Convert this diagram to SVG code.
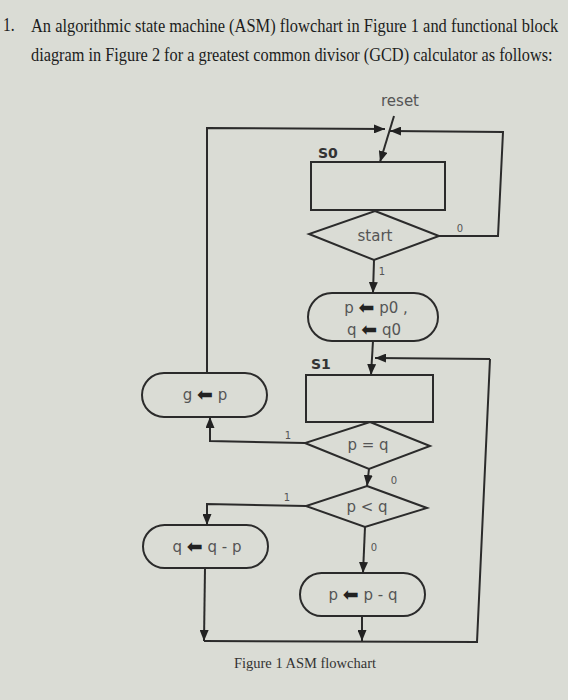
<svg xmlns="http://www.w3.org/2000/svg" width="568" height="700" viewBox="0 0 568 700">
<defs>
<style>
.bg{fill:#dadcd5}
.title{font-family:"Liberation Serif","Times New Roman",serif;font-size:19.5px;fill:#1c1c1c}
.cap{font-family:"Liberation Serif","Times New Roman",serif;font-size:14.5px;fill:#333}
.lbl{font-family:"DejaVu Sans","Noto Sans",sans-serif;font-size:15px;fill:#555;text-anchor:middle}
.ar{font-size:19px;fill:#222}
.st{font-family:"DejaVu Sans","Noto Sans",sans-serif;font-size:14px;font-weight:bold;fill:#333}
.sm{font-family:"DejaVu Sans","Noto Sans",sans-serif;font-size:10px;fill:#555;text-anchor:middle}
.shape{fill:none;stroke:#2b2b2b;stroke-width:2}
.wire{fill:none;stroke:#2b2b2b;stroke-width:2;marker-end:url(#ah)}
.plain{fill:none;stroke:#2b2b2b;stroke-width:2}
</style>
<marker id="ah" markerUnits="userSpaceOnUse" markerWidth="11" markerHeight="9" refX="11" refY="4.5" orient="auto">
<path d="M0,0 L11,4.5 L0,9 z" fill="#222"/>
</marker>
</defs>
<rect class="bg" x="0" y="0" width="568" height="700"/>
<g id="title">
<text class="title" transform="translate(3,31) scale(0.8,1)" x="0" y="0">1.</text>
<text class="title" transform="translate(31,32) scale(0.8,1)" x="0" y="0" textLength="659" lengthAdjust="spacingAndGlyphs">An algorithmic state machine (ASM) flowchart in Figure 1 and functional block</text>
<text class="title" transform="translate(31,61) scale(0.8,1)" x="0" y="0" textLength="652" lengthAdjust="spacingAndGlyphs">diagram in Figure 2 for a greatest common divisor (GCD) calculator as follows:</text>
</g>
<g id="reset-label"><text class="lbl" x="400" y="106" font-size="16">reset</text></g>
<g id="S0">
<text class="st" x="318" y="158">S0</text>
<rect class="shape" x="311" y="162" width="134" height="48"/>
</g>
<g id="start">
<polygon class="shape" points="375,211 439,236 374,260 309,234"/>
<text class="lbl" x="375" y="241">start</text>
</g>
<g id="init">
<rect class="shape" x="308" y="293" width="130" height="48" rx="24" ry="24"/>
<text class="lbl" x="376" y="313" font-size="16">p <tspan class="ar" dy="1">⬅</tspan><tspan dy="-1"> p0 ,</tspan></text>
<text class="lbl" x="374" y="335" font-size="16">q <tspan class="ar" dy="1">⬅</tspan><tspan dy="-1"> q0</tspan></text>
</g>
<g id="S1">
<text class="st" x="311" y="369">S1</text>
<rect class="shape" x="306" y="375" width="127" height="47"/>
</g>
<g id="peq">
<polygon class="shape" points="370,422 430,446 369,469 305,443"/>
<text class="lbl" x="368" y="450">p = q</text>
</g>
<g id="plt">
<polygon class="shape" points="367,486 427,508 365,527 306,506"/>
<text class="lbl" x="367" y="512">p &lt; q</text>
</g>
<g id="gp">
<rect class="shape" x="142" y="373" width="125" height="44" rx="22" ry="22"/>
<text class="lbl" x="205" y="400" font-size="16">g <tspan class="ar" dy="1">⬅</tspan><tspan dy="-1"> p</tspan></text>
</g>
<g id="qqp">
<rect class="shape" x="143" y="525" width="125" height="43" rx="21.5" ry="21.5"/>
<text class="lbl" x="207" y="552" font-size="16">q <tspan class="ar" dy="1">⬅</tspan><tspan dy="-1"> q - p</tspan></text>
</g>
<g id="ppq">
<rect class="shape" x="300" y="573" width="125" height="43" rx="21.5" ry="21.5"/>
<text class="lbl" x="363" y="600" font-size="16">p <tspan class="ar" dy="1">⬅</tspan><tspan dy="-1"> p - q</tspan></text>
</g>
<g id="connectors">
<polyline class="wire" points="207,373 207,128 385,129"/>
<polyline class="wire" points="439,236 498,236 503,132 390,131"/>
<line class="wire" x1="394" y1="116" x2="380" y2="162"/>
<line class="wire" x1="374" y1="260" x2="373" y2="293"/>
<line class="wire" x1="373" y1="341" x2="371" y2="375"/>
<polyline class="plain" points="204,641 477,642 490,359"/>
<polyline class="wire" points="490,359 375,358"/>
<line class="wire" x1="369" y1="469" x2="367" y2="486"/>
<polyline class="wire" points="305,443 210,441 210,417"/>
<polyline class="wire" points="306,506 207,504 207,525"/>
<line class="wire" x1="365" y1="527" x2="363" y2="573"/>
<line class="wire" x1="205" y1="568" x2="204" y2="641"/>
<line class="wire" x1="362" y1="616" x2="362" y2="641"/>
<text class="sm" x="460" y="232">0</text>
<text class="sm" x="382" y="275">1</text>
<text class="sm" x="288" y="439">1</text>
<text class="sm" x="394" y="484">0</text>
<text class="sm" x="287" y="501">1</text>
<text class="sm" x="374" y="551">0</text>
</g>
<g id="caption"><text class="cap" x="305" y="668" text-anchor="middle">Figure 1 ASM flowchart</text></g>
</svg>
